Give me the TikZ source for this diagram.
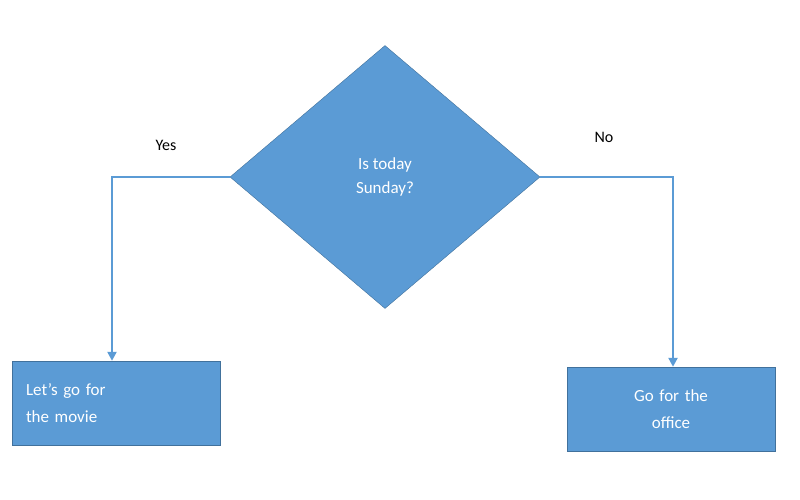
\documentclass[tikz,border=0pt]{standalone}
\usepackage{fontspec}
\setmainfont{Carlito}
\usetikzlibrary{shapes.geometric,arrows.meta}
\definecolor{boxblue}{HTML}{5B9BD5}
\definecolor{edgeblue}{HTML}{41719C}
\tikzset{
  decision/.style={diamond, fill=boxblue, draw=edgeblue, inner sep=0pt,
    minimum width=310pt, minimum height=263pt, text=white, align=center,
    font=\fontsize{17}{24}\selectfont},
  action/.style={rectangle, fill=boxblue, draw=edgeblue, minimum width=208pt,
    minimum height=84pt, text=white, align=left, text width=180pt,
    font=\fontsize{17}{27}\selectfont},
  link/.style={draw=boxblue, line width=2.5pt, -{Triangle[length=9pt,width=9pt]}},
  tag/.style={font=\fontsize{16}{20}\selectfont}
}
\begin{document}
\begin{tikzpicture}[x=1pt,y=-1pt]
\useasboundingbox (0,0) rectangle (800,500);

\node (ask) at (385,177) [decision] {Is today\\Sunday?};
\node (movie) at (116,403) [action] {Let’s go for\\the movie};
\node (office) at (671,409) [action, align=center] {Go for the\\office};

\draw [link] (ask.west) -| (movie.north -| 112,0);
\draw [link] (ask.east) -| (office.north -| 673,0);

\node (yes) at (166,145) [tag] {Yes};
\node (no) at (604,137) [tag] {No};

\end{tikzpicture}
\end{document}
